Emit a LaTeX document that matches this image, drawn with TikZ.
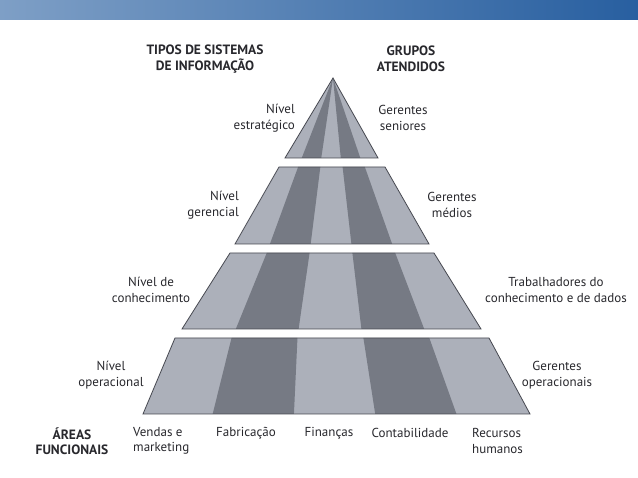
\documentclass[tikz,border=0pt]{standalone}
\usepackage{fontspec}
\setmainfont{PT Sans}
\usetikzlibrary{positioning}
\definecolor{bandlight}{RGB}{172,176,186}
\definecolor{banddark}{RGB}{118,122,132}
\definecolor{edgegray}{RGB}{70,72,80}
\definecolor{headblue}{RGB}{40,95,160}
\definecolor{textgray}{RGB}{40,40,45}
\tikzset{
  label/.style={align=center, font=\fontsize{13}{15.5}\selectfont, text=textgray, inner sep=1pt},
  heading/.style={label, font=\fontsize{13.5}{15.5}\selectfont\bfseries},
}
\begin{document}
\begin{tikzpicture}[x=1pt,y=-1pt]
    \useasboundingbox (0,0) rectangle (638,478);
    \fill[white] (0,0) rectangle (638,478);
    \shade[left color=headblue!60, right color=headblue] (0,0) rectangle (638,20);
    % levels: top y, top left, top right, bottom y, bottom left, bottom right
    \foreach \ty/\tl/\tr/\by/\bl/\br in {78/333/333/158/285/378, 167/279/385/244/235/429,
        253/230/434/329/182/481, 338/175/489/414/143/530} {
        \fill[bandlight] (\tl,\ty) -- (\tr,\ty) -- (\br,\by) -- (\bl,\by) -- cycle;
        \foreach \a/\b in {0.18/0.39, 0.60/0.81}
            \fill[banddark] ({\tl+\a*(\tr-\tl)},\ty) -- ({\tl+\b*(\tr-\tl)},\ty)
                -- ({\bl+\b*(\br-\bl)},\by) -- ({\bl+\a*(\br-\bl)},\by) -- cycle;
        \draw[edgegray, line width=0.8pt] (\tl,\ty) -- (\tr,\ty) -- (\br,\by) -- (\bl,\by) -- cycle;
    }
    \node[heading] (tipos) at (205,59) {TIPOS DE SISTEMAS\\DE INFORMAÇÃO};
    \node[heading] (grupos) at (411,59) {GRUPOS\\ATENDIDOS};
    \node[label, align=right, anchor=east] (estrat) at (296,118) {Nível\\estratégico};
    \node[label] (seniores) at (403,118) {Gerentes\\seniores};
    \node[label, align=right, anchor=east] (gerenc) at (240,205) {Nível\\gerencial};
    \node[label] (medios) at (452,205) {Gerentes\\médios};
    \node[label] (conhec) at (151,290) {Nível de\\conhecimento};
    \node[label] (trab) at (556,290) {Trabalhadores do\\conhecimento e de dados};
    \node[label] (operac) at (111,375) {Nível\\operacional};
    \node[label] (geroper) at (557,375) {Gerentes\\operacionais};
    \node[heading] (areas) at (72,441) {ÁREAS\\FUNCIONAIS};
    \node[label, align=left, anchor=west] (vendas) at (132,441) {Vendas e\\marketing};
    \node[label] (fabric) at (246,433) {Fabricação};
    \node[label] (financ) at (329,433) {Finanças};
    \node[label] (contab) at (410,433) {Contabilidade};
    \node[label, align=left, anchor=west] (recursos) at (471,441) {Recursos\\humanos};
\end{tikzpicture}
\end{document}
